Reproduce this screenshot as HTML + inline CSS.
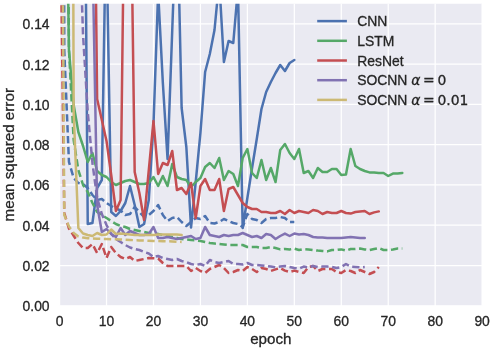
<!DOCTYPE html>
<html><head><meta charset="utf-8"><style>
html,body{margin:0;padding:0;background:#fff;}
svg{display:block;font-family:"Liberation Sans",Arial,sans-serif;}
text{stroke:#262626;stroke-width:0.3px;}
</style></head><body>
<svg width="500" height="350" viewBox="0 0 500 350">
<rect x="59.57" y="3.75" width="422.55" height="302.02" fill="#EAEAF2"/>
<path d="M59.57 3.75V305.77M106.52 3.75V305.77M153.47 3.75V305.77M200.42 3.75V305.77M247.37 3.75V305.77M294.32 3.75V305.77M341.27 3.75V305.77M388.22 3.75V305.77M435.17 3.75V305.77M482.12 3.75V305.77M59.57 305.77H482.12M59.57 265.50H482.12M59.57 225.23H482.12M59.57 184.96H482.12M59.57 144.69H482.12M59.57 104.42H482.12M59.57 64.15H482.12M59.57 23.88H482.12" stroke="#fff" stroke-width="1.25" fill="none"/>
<clipPath id="c"><rect x="59.57" y="3.75" width="422.55" height="302.02"/></clipPath>
<g clip-path="url(#c)"><polyline points="78.35,-600.00 83.05,-368.00 87.74,224.00 92.44,223.00 97.13,188.00 101.83,180.00 106.05,-81.00 111.22,212.00 115.91,216.00 120.61,211.00 125.30,203.00 130.00,186.00 134.69,205.00 139.38,227.00 144.08,224.00 148.78,200.00 153.47,125.00 158.16,-8.00 162.86,83.00 167.56,159.00 172.25,30.00 176.94,-100.00 181.64,108.00 186.34,147.00 191.03,227.50 195.72,182.00 200.42,133.00 205.12,72.00 209.81,54.00 214.50,30.00 219.20,-19.00 223.90,62.00 228.59,41.00 233.28,43.00 237.98,-12.00 242.68,228.00 247.37,198.00 252.06,168.00 256.76,139.00 261.46,109.00 266.15,92.00 270.85,82.00 275.54,73.00 280.24,65.00 284.93,71.00 289.62,63.00 294.32,60.00" stroke="#4C72B0" stroke-linecap="round" stroke-width="2.5" fill="none" stroke-linejoin="round"/><polyline points="64.20,5.30 64.27,50.00 68.96,162.00 73.66,178.00 78.35,183.00 83.05,184.00 87.74,188.00 92.44,195.00 97.13,200.00 101.83,199.00 106.52,203.00 111.22,206.00 115.91,208.50 120.61,210.50 125.30,215.00 130.00,214.00 134.69,207.00 139.38,212.00 144.08,217.00 148.78,215.00 153.47,211.00 158.16,205.00 162.86,215.00 167.56,221.00 172.25,218.00 176.94,217.00 181.64,222.00 186.34,226.00 191.03,222.00 195.72,218.00 200.42,219.00 205.12,216.00 209.81,223.00 214.50,223.50 219.20,222.00 223.90,219.00 228.59,221.00 233.28,223.00 237.98,224.00 242.68,227.00 247.37,214.00 252.06,219.00 256.76,220.00 261.46,223.00 266.15,219.00 270.85,218.00 275.54,218.00 280.24,217.00 284.93,218.00 289.62,222.00 294.32,222.00" stroke="#4C72B0" stroke-dasharray="7.3 3.6" stroke-dashoffset="0" stroke-linecap="butt" stroke-width="2.5" fill="none" stroke-linejoin="round"/><polyline points="59.57,-600.00 64.27,-272.00 68.96,50.00 73.66,105.00 78.35,132.00 83.05,146.00 87.74,162.00 92.44,153.00 97.13,171.00 101.83,175.00 106.52,177.00 111.22,182.00 115.91,185.00 120.61,183.00 125.30,181.00 130.00,180.00 134.69,182.00 139.38,184.00 144.08,184.00 148.78,183.00 153.47,177.00 158.16,186.00 162.86,176.00 167.56,186.00 172.25,164.00 176.94,177.00 181.64,179.00 186.34,180.00 191.03,187.00 195.72,182.00 200.42,178.00 205.12,167.00 209.81,163.00 214.50,168.00 219.20,158.00 223.90,180.00 228.59,171.00 233.28,174.00 237.98,186.00 242.68,158.00 247.37,149.00 252.06,173.00 256.76,178.00 261.46,160.00 266.15,180.00 270.85,168.00 275.54,182.00 280.24,150.00 284.93,144.00 289.62,153.00 294.32,159.00 299.02,149.00 303.71,173.00 308.41,171.00 313.10,178.00 317.80,168.00 322.49,172.00 327.19,172.00 331.88,169.00 336.57,169.00 341.27,175.00 345.97,174.40 350.66,149.00 355.36,166.00 360.05,169.00 364.75,171.00 369.44,172.40 374.13,172.40 378.83,173.00 383.53,173.00 388.22,176.00 392.92,173.60 397.61,173.60 402.31,173.00" stroke="#55A868" stroke-linecap="round" stroke-width="2.5" fill="none" stroke-linejoin="round"/><polyline points="68.64,5.30 68.96,50.00 73.66,140.00 78.35,170.00 83.05,185.00 87.74,192.00 92.44,203.00 97.13,212.00 101.83,215.00 106.52,218.00 111.22,221.00 115.91,224.00 120.61,226.00 125.30,227.00 130.00,229.00 134.69,230.00 139.38,231.00 144.08,232.00 148.78,233.00 153.47,233.50 158.16,234.00 162.86,235.00 167.56,236.00 172.25,237.00 176.94,238.00 181.64,239.00 186.34,239.50 191.03,240.00 195.72,240.50 200.42,241.00 205.12,242.00 209.81,243.00 214.50,243.50 219.20,244.00 223.90,244.50 228.59,245.00 233.28,245.00 237.98,245.00 242.68,245.00 247.37,247.00 252.06,247.00 256.76,247.00 261.46,248.00 266.15,248.00 270.85,247.00 275.54,248.00 280.24,249.40 284.93,249.00 289.62,249.40 294.32,248.60 299.02,250.00 303.71,249.00 308.41,249.40 313.10,250.00 317.80,250.60 322.49,251.00 327.19,251.40 331.88,250.00 336.57,250.00 341.27,249.40 345.97,250.60 350.66,249.00 355.36,249.00 360.05,248.60 364.75,249.40 369.44,250.00 374.13,249.00 378.83,248.00 383.53,250.00 388.22,250.00 392.92,249.40 397.61,248.60 402.31,248.60" stroke="#55A868" stroke-dasharray="7.3 3.6" stroke-dashoffset="9.18" stroke-linecap="butt" stroke-width="2.5" fill="none" stroke-linejoin="round"/><polyline points="87.74,-800.00 92.44,-316.00 97.13,99.00 101.83,120.00 106.52,141.00 111.22,175.00 115.91,211.00 120.61,200.00 125.30,-185.00 130.00,-172.00 134.69,172.00 139.38,193.00 144.08,220.00 148.78,170.00 153.47,121.00 158.16,174.00 162.86,163.00 167.56,165.00 172.25,151.00 176.94,190.00 181.64,188.00 186.34,194.00 191.03,183.00 195.72,218.00 200.42,186.00 205.12,179.00 209.81,190.00 214.50,190.00 219.20,179.00 223.90,211.00 228.59,189.00 233.28,187.00 237.98,195.00 242.68,203.00 247.37,207.00 252.06,209.00 256.76,209.00 261.46,212.00 266.15,212.00 270.85,213.00 275.54,213.00 280.24,211.00 284.93,214.00 289.62,210.00 294.32,213.00 299.02,211.00 303.71,212.00 308.41,213.00 313.10,210.00 317.80,211.00 322.49,214.00 327.19,212.00 331.88,213.00 336.57,213.00 341.27,211.00 345.97,213.00 350.66,213.60 355.36,212.00 360.05,211.40 364.75,211.00 369.44,214.00 374.13,212.40 378.83,211.40" stroke="#C44E52" stroke-linecap="round" stroke-width="2.5" fill="none" stroke-linejoin="round"/><polyline points="61.52,5.30 64.27,213.00 68.96,228.60 73.66,235.70 78.35,243.00 83.05,248.00 87.74,248.00 92.44,244.00 97.13,253.00 101.83,244.00 106.52,258.00 111.22,247.00 115.91,253.00 120.61,257.00 125.30,259.00 130.00,257.00 134.69,261.00 139.38,260.00 144.08,259.00 148.78,258.00 153.47,258.30 158.16,258.50 162.86,263.00 167.56,266.00 172.25,266.00 176.94,266.00 181.64,266.00 186.34,266.00 191.03,271.00 195.72,268.00 200.42,271.00 205.12,273.00 209.81,269.00 214.50,267.00 219.20,265.00 223.90,268.00 228.59,273.00 233.28,272.00 237.98,270.00 242.68,271.00 247.37,267.00 252.06,269.00 256.76,272.00 261.46,268.00 266.15,269.00 270.85,271.00 275.54,269.40 280.24,268.00 284.93,270.60 289.62,272.00 294.32,270.60 299.02,272.00 303.71,273.00 308.41,267.00 313.10,266.00 317.80,271.00 322.49,269.00 327.19,269.00 331.88,269.00 336.57,272.00 341.27,273.00 345.97,270.00 350.66,271.00 355.36,273.00 360.05,270.00 364.75,272.00 369.44,274.00 374.13,272.00 378.83,267.00" stroke="#C44E52" stroke-dasharray="7.3 3.6" stroke-dashoffset="0" stroke-linecap="butt" stroke-width="2.5" fill="none" stroke-linejoin="round"/><polyline points="87.74,-900.00 92.44,-51.00 97.13,205.00 101.83,232.00 106.52,229.00 111.22,234.00 115.91,237.00 120.61,228.00 125.30,235.00 130.00,231.00 134.69,233.00 139.38,235.00 144.08,235.00 148.78,234.00 153.47,227.00 158.16,238.00 162.86,238.00 167.56,237.00 172.25,238.00 176.94,239.00 181.64,238.00 186.34,237.00 191.03,236.00 195.72,239.00 200.42,238.00 205.12,227.00 209.81,235.00 214.50,236.00 219.20,237.00 223.90,235.00 228.59,236.00 233.28,235.00 237.98,235.00 242.68,233.00 247.37,235.00 252.06,237.00 256.76,236.00 261.46,238.00 266.15,234.00 270.85,235.00 275.54,239.00 280.24,236.00 284.93,233.60 289.62,236.00 294.32,233.60 299.02,234.40 303.71,234.00 308.41,235.00 313.10,237.00 317.80,237.60 322.49,237.60 327.19,238.00 331.88,238.00 336.57,238.00 341.27,238.00 345.97,237.50 350.66,237.00 355.36,237.50 360.05,238.00 364.75,238.00" stroke="#8172B2" stroke-linecap="round" stroke-width="2.5" fill="none" stroke-linejoin="round"/><polyline points="82.05,5.30 83.05,35.00 87.74,112.00 92.44,163.00 97.13,198.00 101.83,214.00 106.52,225.00 111.22,234.00 115.91,239.00 120.61,242.00 125.30,245.00 130.00,247.50 134.69,249.00 139.38,250.00 144.08,252.00 148.78,253.50 153.47,257.00 158.16,256.00 162.86,258.00 167.56,259.00 172.25,260.00 176.94,259.00 181.64,261.00 186.34,262.00 191.03,264.00 195.72,265.00 200.42,264.00 205.12,266.00 209.81,260.00 214.50,262.00 219.20,263.00 223.90,262.00 228.59,261.00 233.28,264.00 237.98,264.00 242.68,264.50 247.37,263.00 252.06,265.00 256.76,265.00 261.46,265.40 266.15,266.00 270.85,266.60 275.54,267.40 280.24,266.60 284.93,266.00 289.62,267.00 294.32,268.00 299.02,268.60 303.71,266.60 308.41,267.40 313.10,266.00 317.80,267.00 322.49,266.60 327.19,266.60 331.88,267.00 336.57,268.00 341.27,267.00 345.97,264.00 350.66,266.60 355.36,267.00 360.05,267.40 364.75,267.00" stroke="#8172B2" stroke-dasharray="7.3 3.6" stroke-dashoffset="0" stroke-linecap="butt" stroke-width="2.5" fill="none" stroke-linejoin="round"/><polyline points="68.96,-1500.00 73.66,112.00 78.35,228.00 83.05,233.50 87.74,235.00 92.44,236.00 97.13,233.00 101.83,235.00 106.52,234.50 111.22,229.50 115.91,234.00 120.61,233.50 125.30,234.00 130.00,234.50 134.69,235.00 139.38,235.00 144.08,235.00 148.78,235.00 153.47,235.00 158.16,234.50 162.86,234.50 167.56,234.50 172.25,234.50 176.94,234.50 181.64,235.00" stroke="#CCB974" stroke-linecap="round" stroke-width="2.5" fill="none" stroke-linejoin="round"/><polyline points="63.01,5.30 64.27,215.00 68.96,226.40 73.66,232.90 78.35,236.40 83.05,237.60 87.74,238.20 92.44,238.50 97.13,238.70 101.83,238.90 106.52,239.00 111.22,239.20 115.91,239.30 120.61,239.50 125.30,239.80 130.00,240.00 134.69,240.20 139.38,240.40 144.08,240.60 148.78,240.80 153.47,241.00 158.16,241.10 162.86,241.20 167.56,241.30 172.25,241.50 176.94,241.70 181.64,241.90" stroke="#CCB974" stroke-dasharray="7.3 3.6" stroke-dashoffset="0" stroke-linecap="butt" stroke-width="2.5" fill="none" stroke-linejoin="round"/></g>
<g font-size="13.9" fill="#262626"><text x="49.6" y="311.17" text-anchor="end">0.00</text><text x="49.6" y="270.90" text-anchor="end">0.02</text><text x="49.6" y="230.63" text-anchor="end">0.04</text><text x="49.6" y="190.36" text-anchor="end">0.06</text><text x="49.6" y="150.09" text-anchor="end">0.08</text><text x="49.6" y="109.82" text-anchor="end">0.10</text><text x="49.6" y="69.55" text-anchor="end">0.12</text><text x="49.6" y="29.28" text-anchor="end">0.14</text><text x="59.57" y="326.0" text-anchor="middle">0</text><text x="106.52" y="326.0" text-anchor="middle">10</text><text x="153.47" y="326.0" text-anchor="middle">20</text><text x="200.42" y="326.0" text-anchor="middle">30</text><text x="247.37" y="326.0" text-anchor="middle">40</text><text x="294.32" y="326.0" text-anchor="middle">50</text><text x="341.27" y="326.0" text-anchor="middle">60</text><text x="388.22" y="326.0" text-anchor="middle">70</text><text x="435.17" y="326.0" text-anchor="middle">80</text><text x="482.12" y="326.0" text-anchor="middle">90</text></g>
<text x="270.85" y="344.2" text-anchor="middle" font-size="15.2" fill="#262626">epoch</text>
<text transform="translate(13.6 154.76) rotate(-90)" text-anchor="middle" font-size="15.2" fill="#262626">mean squared error</text>
<g><path d="M317.2 21.10H346.9" stroke="#4C72B0" stroke-width="2.5"/><text x="357.2" y="26.10" font-size="13.9" fill="#262626">CNN</text><path d="M317.2 40.80H346.9" stroke="#55A868" stroke-width="2.5"/><text x="357.2" y="45.80" font-size="13.9" fill="#262626">LSTM</text><path d="M317.2 60.50H346.9" stroke="#C44E52" stroke-width="2.5"/><text x="357.2" y="65.50" font-size="13.9" fill="#262626">ResNet</text><path d="M317.2 80.20H346.9" stroke="#8172B2" stroke-width="2.5"/><text x="357.2" y="85.20" font-size="13.9" fill="#262626">SOCNN <tspan font-family="DejaVu Sans" font-style="italic">α</tspan><tspan font-family="DejaVu Sans" dx="2.52">=</tspan><tspan font-family="DejaVu Sans" dx="2.92">0</tspan></text><path d="M317.2 99.90H346.9" stroke="#CCB974" stroke-width="2.5"/><text x="357.2" y="104.90" font-size="13.9" fill="#262626">SOCNN <tspan font-family="DejaVu Sans" font-style="italic">α</tspan><tspan font-family="DejaVu Sans" dx="2.52">=</tspan><tspan font-family="DejaVu Sans" dx="2.92">0.01</tspan></text></g>
</svg>
</body></html>
